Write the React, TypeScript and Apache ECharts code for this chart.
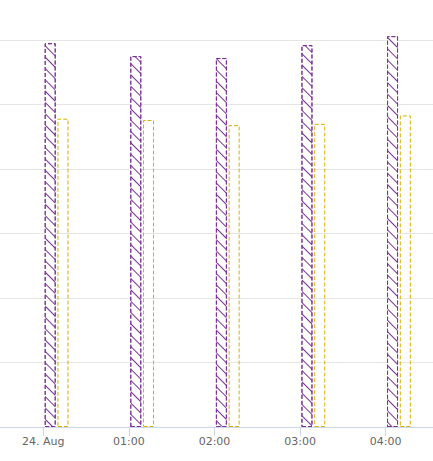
import React, { useEffect, useRef } from 'react'
import * as echarts from 'echarts'

const PURPLE = '#7b3294'
const YELLOW = '#d4b106'

// hours after midnight, 24 Aug (each group sits a little after its tick)
const pointHours = [0.155, 1.155, 2.155, 3.155, 4.155]
const tickHours = [0, 1, 2, 3, 4]
const tickLabels = ['24. Aug', '01:00', '02:00', '03:00', '04:00']

const seriesA = [5.95, 5.75, 5.72, 5.92, 6.06]
const seriesB = [4.78, 4.76, 4.68, 4.7, 4.83]

export default function App() {
  const chartRef = useRef<HTMLDivElement>(null)

  useEffect(() => {
    if (!chartRef.current) return
    const chart = echarts.init(chartRef.current, undefined, { renderer: 'svg' })

    const option: echarts.EChartsOption = {
      animation: false,
      grid: { left: 0, right: 0, top: 0, bottom: 34 },
      xAxis: {
        type: 'value',
        min: -0.506,
        max: 4.553,
        axisLine: { show: true, onZero: false, lineStyle: { color: '#ccd6eb', width: 1 } },
        axisTick: { show: true, length: 9, customValues: tickHours, lineStyle: { color: '#ccd6eb' } },
        axisLabel: {
          customValues: tickHours,
          margin: 9,
          color: '#666666',
          fontSize: 11,
          fontFamily: 'DejaVu Sans',
          formatter: (v: number) => tickLabels[tickHours.indexOf(Math.round(v))] ?? ''
        },
        splitLine: { show: false }
      },
      yAxis: {
        type: 'value',
        min: 0,
        max: 6.62,
        interval: 1,
        axisLine: { show: false },
        axisTick: { show: false },
        axisLabel: { show: false },
        splitLine: { showMaxLine: false, lineStyle: { color: '#e6e6e6', width: 1 } }
      },
      series: [
        {
          type: 'bar',
          data: pointHours.map((h, i) => [h, seriesA[i]]),
          barWidth: 11,
          barGap: '16%',
          itemStyle: {
            color: '#ffffff',
            borderColor: PURPLE,
            borderWidth: 1,
            borderType: 'dashed',
            decal: {
              symbol: 'rect',
              symbolSize: 1,
              color: PURPLE,
              dashArrayX: [1, 0],
              dashArrayY: [1, 6.5],
              rotation: Math.PI / 4
            }
          }
        },
        {
          type: 'bar',
          data: pointHours.map((h, i) => [h, seriesB[i]]),
          barWidth: 11,
          itemStyle: {
            color: 'rgba(255,255,255,0)',
            borderColor: YELLOW,
            borderWidth: 1,
            borderType: 'dashed'
          }
        }
      ]
    }

    chart.setOption(option)
    return () => chart.dispose()
  }, [])

  return (
    <div
      ref={chartRef}
      style={{ position: 'fixed', left: 0, top: 0, width: '433px', height: '461px', background: '#ffffff' }}
    />
  )
}
